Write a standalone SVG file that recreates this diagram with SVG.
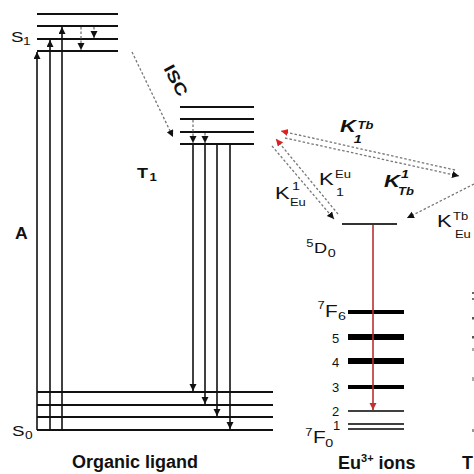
<svg xmlns="http://www.w3.org/2000/svg" width="474" height="474" viewBox="0 0 474 474">
<style>
.lv{stroke:#111;stroke-width:2;fill:none}
.ar{stroke:#111;stroke-width:1.6;fill:none;marker-end:url(#ah)}
.ds{stroke:#777;stroke-width:1.3;stroke-dasharray:2.5 2;fill:none}
.t{font-family:"Liberation Sans",Arial,sans-serif;fill:#111}
.b{font-weight:bold}
.i{font-style:italic;font-weight:bold}
</style>
<defs>
<marker id="ah" markerUnits="userSpaceOnUse" markerWidth="8" markerHeight="8" refX="7" refY="3.5" orient="auto"><path d="M0,0 L7,3.5 L0,7 z" fill="#111"/></marker>
<marker id="ahr" markerUnits="userSpaceOnUse" markerWidth="8" markerHeight="8" refX="7" refY="3.5" orient="auto"><path d="M0,0 L7,3.5 L0,7 z" fill="#e02020"/></marker>
<marker id="ahd" markerUnits="userSpaceOnUse" markerWidth="8" markerHeight="8" refX="7" refY="3.5" orient="auto"><path d="M0,0 L7,3.5 L0,7 z" fill="#c03030"/></marker>
</defs>
<rect width="474" height="474" fill="#fff"/>

<g id="organic-ligand">
<line class="lv" x1="37" y1="14" x2="118" y2="14"/>
<line class="lv" x1="37" y1="26" x2="118" y2="26"/>
<line class="lv" x1="37" y1="39" x2="118" y2="39"/>
<line class="lv" x1="37" y1="51" x2="118" y2="51"/>
<line class="lv" x1="37" y1="392" x2="273" y2="392"/>
<line class="lv" x1="37" y1="405" x2="273" y2="405"/>
<line class="lv" x1="37" y1="417" x2="273" y2="417"/>
<line class="lv" x1="37" y1="430" x2="273" y2="430" stroke-width="2.6"/>
<line class="lv" x1="180" y1="107" x2="254" y2="107"/>
<line class="lv" x1="180" y1="119" x2="254" y2="119"/>
<line class="lv" x1="180" y1="132" x2="254" y2="132"/>
<line class="lv" x1="180" y1="144" x2="254" y2="144" stroke-width="2.6"/>
<g transform="translate(11,42) scale(1.25,1)"><text class="t" x="0" y="0" font-size="15">S</text><text class="t" x="9.6" y="3" font-size="11">1</text></g>
<g transform="translate(12,436) scale(1.25,1)"><text class="t" x="0" y="0" font-size="15">S</text><text class="t" x="10.5" y="3" font-size="11">0</text></g>
<g transform="translate(137,178) scale(1.2,1)"><text class="t b" x="0" y="0" font-size="15">T</text><text class="t b" x="10.5" y="3" font-size="11">1</text></g>
<text class="t b" x="0" y="0" font-size="16" transform="translate(15,239) scale(1.1,1)">A</text>
<text class="t b" x="0" y="0" font-size="16" text-anchor="middle" transform="translate(171,83) rotate(62) scale(1.25,1)">ISC</text>
<text class="t b" x="135" y="468" font-size="18" text-anchor="middle">Organic ligand</text>
</g>

<g id="eu-ions">
<line x1="342" y1="224" x2="397" y2="224" stroke="#333" stroke-width="2"/>
<line x1="348" y1="312" x2="404" y2="312" stroke="#000" stroke-width="4"/>
<line x1="348" y1="337" x2="404" y2="337" stroke="#000" stroke-width="6"/>
<line x1="348" y1="361" x2="404" y2="361" stroke="#000" stroke-width="6"/>
<line x1="348" y1="387" x2="404" y2="387" stroke="#000" stroke-width="4"/>
<line x1="348" y1="411" x2="404" y2="411" stroke="#000" stroke-width="1.5"/>
<line x1="348" y1="424" x2="404" y2="424" stroke="#000" stroke-width="1.5"/>
<line x1="348" y1="429" x2="404" y2="429" stroke="#000" stroke-width="1.5"/>
<g transform="translate(314,253) scale(1.3,1)"><text class="t" x="-6" y="-6" font-size="10">5</text><text class="t" x="0" y="0" font-size="14">D</text><text class="t" x="10.5" y="4" font-size="11">0</text></g>
<g transform="translate(325,317) scale(1.3,1)"><text class="t" x="-5.8" y="-8" font-size="10">7</text><text class="t" x="0" y="0" font-size="16">F</text><text class="t" x="10" y="3" font-size="11">6</text></g>
<text class="t" x="332" y="343" font-size="13">5</text>
<text class="t" x="332" y="367" font-size="13">4</text>
<text class="t" x="332" y="392" font-size="13">3</text>
<text class="t" x="332" y="416" font-size="13">2</text>
<text class="t" x="333" y="430" font-size="13">1</text>
<g transform="translate(313,443) scale(1.3,1)"><text class="t" x="-6" y="-7" font-size="10">7</text><text class="t" x="0" y="0" font-size="16">F</text><text class="t" x="9.5" y="4" font-size="11">0</text></g>
<text class="t b" x="338" y="469" font-size="18">Eu<tspan font-size="11" dy="-7">3+</tspan><tspan dy="7"> ions</tspan></text>
</g>

<g id="tb-ions">
<rect x="472" y="292" width="2" height="2" fill="#666"/>
<rect x="472" y="298" width="2" height="2" fill="#777"/>
<rect x="472" y="317" width="2" height="2.5" fill="#555"/>
<rect x="472" y="336" width="2" height="2.5" fill="#555"/>
<rect x="472" y="348" width="2" height="3" fill="#aaa"/>
<rect x="472" y="377" width="2" height="4" fill="#aaa"/>
<rect x="472" y="429" width="2" height="3" fill="#999"/>
<text class="t b" x="462" y="469" font-size="18">T</text>
</g>

<g id="rate-labels">
<g transform="translate(275,199) scale(1.3,1)"><text class="t" x="0" y="0" font-size="17">K</text><text class="t" x="13" y="-9" font-size="11">1</text><text class="t" x="11.5" y="7" font-size="10">Eu</text></g>
<g transform="translate(319,185) scale(1.3,1)"><text class="t" x="0" y="0" font-size="17">K</text><text class="t" x="12.3" y="-7" font-size="10">Eu</text><text class="t" x="13" y="11" font-size="11">1</text></g>
<g transform="translate(384,187) scale(1.3,1)"><text class="t i" x="0" y="0" font-size="17">K</text><text class="t i" x="13" y="-9" font-size="11">1</text><text class="t i" x="10.8" y="8" font-size="10">Tb</text></g>
<g transform="translate(340,132) scale(1.3,1)"><text class="t i" x="0" y="0" font-size="17">K</text><text class="t i" x="13.5" y="-3" font-size="10">Tb</text><text class="t i" x="10.5" y="11.5" font-size="11">1</text></g>
<g transform="translate(437,227) scale(1.3,1)"><text class="t" x="0" y="0" font-size="17">K</text><text class="t" x="12.3" y="-7" font-size="10">Tb</text><text class="t" x="13.8" y="11" font-size="10">Eu</text></g>
</g>

<g id="connectors">
<line class="ar" x1="37" y1="430" x2="37" y2="52"/>
<line class="ar" x1="50" y1="430" x2="50" y2="40"/>
<line class="ar" x1="62" y1="430" x2="62" y2="27"/>
<line class="ds" x1="81" y1="27" x2="81" y2="50" stroke="#555" marker-end="url(#ah)"/>
<line class="ds" x1="94" y1="27" x2="94" y2="38" stroke="#555" marker-end="url(#ah)"/>
<line class="ar" x1="193" y1="144" x2="193" y2="391"/>
<line class="ar" x1="205" y1="144" x2="205" y2="404"/>
<line class="ar" x1="217" y1="144" x2="217" y2="416"/>
<line class="ar" x1="230" y1="144" x2="230" y2="429"/>
<line class="ds" x1="193" y1="120" x2="193" y2="143" stroke="#555" marker-end="url(#ah)"/>
<line class="ds" x1="205" y1="133" x2="205" y2="143" stroke="#555" marker-end="url(#ah)"/>
<line class="ds" x1="132" y1="52" x2="173" y2="137" marker-end="url(#ah)"/>
<line x1="373" y1="225" x2="373" y2="410" stroke="#b83030" stroke-width="1.6" marker-end="url(#ahd)"/>
<line class="ds" x1="455" y1="170" x2="281" y2="131" marker-end="url(#ahr)"/>
<line class="ds" x1="285" y1="138" x2="459" y2="176" marker-end="url(#ah)"/>
<line class="ds" x1="338" y1="214" x2="276" y2="139" marker-end="url(#ahr)"/>
<line class="ds" x1="272" y1="146" x2="334" y2="219" marker-end="url(#ah)"/>
<line class="ds" x1="474" y1="184" x2="407" y2="218" marker-end="url(#ah)"/>
</g>
</svg>
